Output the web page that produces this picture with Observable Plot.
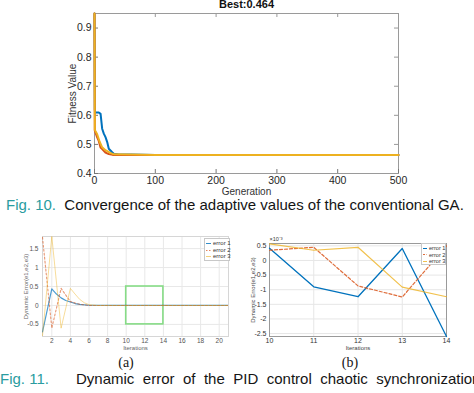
<!DOCTYPE html>
<html><head><meta charset="utf-8">
<script src="https://cdn.jsdelivr.net/npm/d3@7"></script>
<script src="https://cdn.jsdelivr.net/npm/@observablehq/plot@0.6"></script>
<style>
html,body{margin:0;padding:0;background:#fff;}
#page{position:relative;width:474px;height:393px;overflow:hidden;font-family:"Liberation Sans",Arial,sans-serif;background:#fff;}
.abs{position:absolute;}
.cap{position:absolute;white-space:nowrap;font-size:15px;line-height:13px;color:#151515;}
.fig{color:#2a9ca0;}
.sub{position:absolute;font-family:"Liberation Serif","Times New Roman",serif;font-size:14px;line-height:12px;color:#151515;transform:translateX(-50%);}
.legend{position:absolute;background:#fff;border:1px solid #c8c8c8;color:#333;box-sizing:border-box;}
.legend .row{display:flex;align-items:center;white-space:nowrap;}
.legend svg{flex:none;}
</style></head><body>
<div id="page">
  <div id="top" class="abs" style="left:0;top:0"></div>
  <div class="cap" style="left:6px;top:198px"><span class="fig">Fig. 10.</span>&nbsp; Convergence of the adaptive values of the conventional GA.</div>
  <div id="chartA" class="abs" style="left:0;top:230px"></div>
  <div id="chartB" class="abs" style="left:240px;top:230px"></div>
  <div id="legA" class="legend" style="left:204px;top:238px;width:26px;height:23px;padding:1px 1px;font-size:6px;line-height:6.7px"></div>
  <div id="legB" class="legend" style="left:421px;top:243px;width:25px;height:22px;padding:1px 1px;font-size:5.6px;line-height:6.5px"></div>
  <div class="sub" style="left:126px;top:357px">(a)</div>
  <div class="sub" style="left:350px;top:357px">(b)</div>
  <div class="cap" style="left:0;top:372px"><span class="fig">Fig. 11.</span></div>
  <div class="cap" style="left:76px;top:372px;word-spacing:4.3px">Dynamic error of the PID control chaotic synchronization</div>
</div>
<script>
const FONT = '"Liberation Sans", Arial, sans-serif';
const C1 = "#0072BD", C2 = "#D95319", C3 = "#EDB120";

// ---- Fig. 10 : GA convergence ----
const genBlue   = [0, 0.5, 1, 7, 10, 12.6, 15.3, 18.1, 20.9, 23.5, 26.3, 29.1, 31.7, 40, 60, 100, 500];
const fitBlue   = [0.95, 0.62, 0.61, 0.61, 0.605, 0.554, 0.537, 0.525, 0.508, 0.485, 0.479, 0.473, 0.468, 0.465, 0.465, 0.464, 0.464];
const genOrange = [0, 0.5, 4.4, 7, 9.9, 12.6, 18, 23.5, 30, 100, 500];
const fitOrange = [0.95, 0.547, 0.524, 0.512, 0.489, 0.484, 0.472, 0.467, 0.464, 0.464, 0.464];
const genYellow = [0, 0.5, 4.4, 8.3, 12.6, 18, 26, 31.7, 60, 100, 500];
const fitYellow = [0.95, 0.55, 0.535, 0.51, 0.49, 0.48, 0.471, 0.466, 0.465, 0.464, 0.464];
const xTicksTop = [0, 100, 200, 300, 400, 500];
const yTicksTop = [0.4, 0.5, 0.6, 0.7, 0.8, 0.9];
const titleTop = "Best:0.464";

// ---- Fig. 11 (a) ----
const itA1  = [1, 2, 2.5, 3, 3.5, 4, 4.5, 5, 6, 8, 21];
const errA1 = [-0.7, 0.44, 0.3, 0.2, 0.13, 0.09, 0.05, 0.03, 0.005, 0, 0];
const itA2  = [1, 2, 3, 4, 5, 6, 21];
const errA2 = [1.8, -0.6, 0.45, 0.1, 0.03, 0, 0];
const itA3  = [1, 2, 3, 4, 4.5, 5, 5.5, 6, 7, 21];
const errA3 = [-0.8, 1.82, -0.6, 0.45, 0.3, 0.16, 0.07, 0.02, 0, 0];
const zoomBoxA = [{x1: 10, x2: 14, y1: -0.5, y2: 0.5}];
const xTicksA = [2, 4, 6, 8, 10, 12, 14, 16, 18, 20];
const yTicksA = [-0.5, 0, 0.5, 1, 1.5];

// ---- Fig. 11 (b) (values ×10^-3) ----
const itB   = [10, 11, 12, 13, 14];
const errB1 = [0.42, -0.9, -1.24, 0.41, -2.6];
const errB2 = [0.35, 0.45, -0.87, -1.25, 0.5];
const errB3 = [0.57, 0.35, 0.45, -0.91, -1.24];
const xTicksB = [10, 11, 12, 13, 14];
const yTicksB = [-2.5, -2, -1.5, -1, -0.5, 0, 0.5];

const seriesNames = ["error 1", "error 2", "error 3"];
const yLabelSmall = "Dynamic Error(e1,e2,e3)";
const xLabelSmall = "Iterations";

const rows = (xs, ys) => xs.map((x, i) => ({x, y: ys[i]}));
const fmt = d => String(d);
const centered = {textAnchor: "middle", lineAnchor: "middle"};

// Top chart
const topPlot = Plot.plot({
  width: 474, height: 200,
  marginLeft: 94, marginRight: 76, marginTop: 13, marginBottom: 27,
  style: {fontFamily: FONT, fontSize: "10.5px", color: "#262626", background: "transparent", overflow: "visible"},
  x: {domain: [0, 500]},
  y: {domain: [0.4, 0.95]},
  marks: [
    Plot.frame({stroke: "#9a9a9a"}),
    Plot.tickX(xTicksTop, {x: d => d, insetTop: 156, stroke: "#777"}),
    Plot.tickX(xTicksTop, {x: d => d, insetBottom: 156, stroke: "#999"}),
    Plot.tickY(yTicksTop, {y: d => d, insetRight: 300, stroke: "#777"}),
    Plot.tickY(yTicksTop, {y: d => d, insetLeft: 300, stroke: "#999"}),
    Plot.axisX(xTicksTop, {tickSize: 0, tickPadding: 3, label: null, tickFormat: fmt}),
    Plot.axisY(yTicksTop, {tickSize: 0, tickPadding: 3, label: null, tickFormat: fmt}),
    Plot.line(rows(genBlue, fitBlue), {x: "x", y: "y", stroke: C1, strokeWidth: 2}),
    Plot.line(rows(genOrange, fitOrange), {x: "x", y: "y", stroke: C2, strokeWidth: 2}),
    Plot.line(rows(genYellow, fitYellow), {x: "x", y: "y", stroke: C3, strokeWidth: 2}),
    Plot.text([titleTop], {text: d => d, frameAnchor: "top", dy: -9, ...centered, fontWeight: "bold", fontSize: 11, fill: "#111"}),
    Plot.text(["Generation"], {text: d => d, frameAnchor: "bottom", dy: 18, ...centered, fontSize: 10, fill: "#333"}),
    Plot.text(["Fitness Value"], {text: d => d, frameAnchor: "left", dx: -22, rotate: -90, ...centered, fontSize: 10, fill: "#333"})
  ]
});
document.getElementById("top").appendChild(topPlot);

// Chart (a)
const plotA = Plot.plot({
  width: 240, height: 125,
  marginLeft: 42, marginRight: 12, marginTop: 6, marginBottom: 19,
  style: {fontFamily: FONT, fontSize: "6.5px", color: "#555", background: "transparent", overflow: "visible"},
  x: {domain: [1, 21]},
  y: {domain: [-0.82, 1.82]},
  marks: [
    Plot.gridX(xTicksA, {stroke: "#e8e8e8", strokeOpacity: 1}),
    Plot.gridY(yTicksA, {stroke: "#e8e8e8", strokeOpacity: 1}),
    Plot.frame({stroke: "#d6d6d6"}),
    Plot.axisX(xTicksA, {tickSize: 0, tickPadding: 2, label: null, tickFormat: fmt}),
    Plot.axisY(yTicksA, {tickSize: 0, tickPadding: 4, label: null, tickFormat: fmt}),
    Plot.rect(zoomBoxA, {x1: "x1", x2: "x2", y1: "y1", y2: "y2", fill: "none", stroke: "#86dc86", strokeWidth: 1.6}),
    Plot.line(rows(itA1, errA1), {x: "x", y: "y", stroke: C1, strokeWidth: 1.2, strokeOpacity: 0.7, clip: true}),
    Plot.line(rows(itA2, errA2), {x: "x", y: "y", stroke: C2, strokeWidth: 1.1, strokeOpacity: 0.6, strokeDasharray: "2,2", clip: true}),
    Plot.line(rows(itA3, errA3), {x: "x", y: "y", stroke: C3, strokeWidth: 1, strokeOpacity: 0.45, clip: true}),
    Plot.text([xLabelSmall], {text: d => d, frameAnchor: "bottom", dy: 12, ...centered, fontSize: 6, fill: "#666"}),
    Plot.text([yLabelSmall], {text: d => d, frameAnchor: "left", dx: -16, rotate: -90, ...centered, fontSize: 6, fill: "#666"})
  ]
});
document.getElementById("chartA").appendChild(plotA);

// Chart (b)
const plotB = Plot.plot({
  width: 234, height: 125,
  marginLeft: 29, marginRight: 28, marginTop: 13, marginBottom: 19,
  style: {fontFamily: FONT, fontSize: "7px", color: "#333", background: "transparent", overflow: "visible"},
  x: {domain: [10, 14]},
  y: {domain: [-2.6, 0.58]},
  marks: [
    Plot.gridX(xTicksB, {stroke: "#e6e6e6", strokeOpacity: 1}),
    Plot.gridY(yTicksB, {stroke: "#e6e6e6", strokeOpacity: 1}),
    Plot.frame({stroke: "#9a9a9a"}),
    Plot.axisX(xTicksB, {tickSize: 0, tickPadding: 2, label: null, tickFormat: fmt}),
    Plot.axisY(yTicksB, {tickSize: 0, tickPadding: 3, label: null, tickFormat: fmt}),
    Plot.line(rows(itB, errB1), {x: "x", y: "y", stroke: C1, strokeWidth: 1.3}),
    Plot.line(rows(itB, errB2), {x: "x", y: "y", stroke: C2, strokeWidth: 1.2, strokeOpacity: 0.85, strokeDasharray: "3,2"}),
    Plot.line(rows(itB, errB3), {x: "x", y: "y", stroke: C3, strokeWidth: 1.2, strokeOpacity: 0.8}),
    Plot.text(["×10⁻³"], {text: d => d, frameAnchor: "top-left", dy: -4, textAnchor: "start", lineAnchor: "middle", fontSize: 5.5, fill: "#333"}),
    Plot.text([xLabelSmall], {text: d => d, frameAnchor: "bottom", dy: 12, ...centered, fontSize: 6, fill: "#444"}),
    Plot.text([yLabelSmall], {text: d => d, frameAnchor: "left", dx: -16, rotate: -90, ...centered, fontSize: 6, fill: "#444"})
  ]
});
document.getElementById("chartB").appendChild(plotB);

// Legends
function legend(el, specs, w) {
  specs.forEach(s => {
    const row = document.createElement("div");
    row.className = "row";
    row.innerHTML = `<svg width="${w}" height="5"><line x1="0" x2="${w - 1}" y1="2.5" y2="2.5" stroke="${s.color}" stroke-width="1" ${s.dash ? `stroke-dasharray="${s.dash}"` : ""} stroke-opacity="${s.op}"/></svg><span style="margin-left:1px">${s.name}</span>`;
    el.appendChild(row);
  });
}
legend(document.getElementById("legA"), [
  {name: seriesNames[0], color: C1, op: 0.8},
  {name: seriesNames[1], color: C2, op: 0.7, dash: "1.5,1.5"},
  {name: seriesNames[2], color: C3, op: 0.6}
], 6);
legend(document.getElementById("legB"), [
  {name: seriesNames[0], color: C1, op: 1},
  {name: seriesNames[1], color: C2, op: 0.85, dash: "2,1.5"},
  {name: seriesNames[2], color: C3, op: 0.8}
], 5);
</script>
</body></html>
